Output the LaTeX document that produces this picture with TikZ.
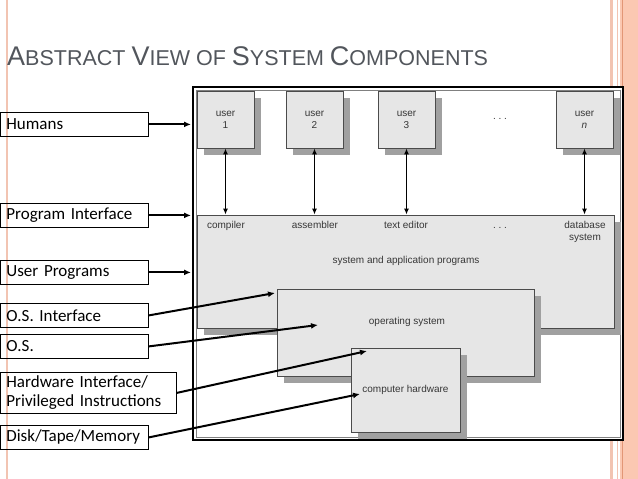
\documentclass[tikz,border=0pt]{standalone}
\usepackage{fontspec}
\setmainfont{Liberation Sans}
\newfontfamily\labelfont{Carlito}
\usetikzlibrary{arrows.meta,shadows}
\definecolor{Salmon}{RGB}{251,200,178}
\definecolor{SalmonLine}{RGB}{242,196,178}
\definecolor{SalmonDark}{RGB}{226,150,118}
\definecolor{Heading}{RGB}{82,86,92}
\definecolor{Part}{RGB}{230,230,230}
\definecolor{Shade}{RGB}{160,160,160}
\definecolor{Ink}{RGB}{55,55,55}
\newcommand{\bigsmall}[2]{{\fontsize{27}{29}\selectfont #1}#2}
\newcommand{\drawarrow}{\draw[line width=2pt,-{Latex[length=7pt,width=6pt]}]}
\tikzset{
  tag/.style={draw,line width=0.8pt,anchor=north west,minimum height=24pt,inner xsep=6pt,inner ysep=2pt,
    text width=136pt,align=left,font=\labelfont\fontsize{17}{19}\selectfont},
  part/.style={draw=Ink!90,line width=0.8pt,fill=Part,align=center,text=Ink,font=\fontsize{10}{12}\selectfont,
    general shadow={fill=Shade,shadow xshift=7pt,shadow yshift=-7pt}},
  user/.style={part,minimum width=57pt,minimum height=57pt},
  word/.style={text=Ink,align=center,font=\fontsize{10}{12}\selectfont,inner sep=1pt,text height=7.5pt,text depth=2pt},
  link/.style={line width=1.2pt,{Latex[length=6pt,width=5pt]}-{Latex[length=6pt,width=5pt]}}
}
\begin{document}
\begin{tikzpicture}[x=1pt,y=-1pt]
\useasboundingbox (0,0) rectangle (638,479);
\fill[SalmonLine] (5.5,0) rectangle (7.5,479);
\fill[SalmonLine] (610,0) rectangle (612.5,479);
\draw[SalmonLine] (617,0) -- (617,479);
\fill[Salmon] (620,0) rectangle (638,479);
\draw[SalmonDark] (622,0) -- (622,479);
\node[anchor=base west,inner sep=0,text=Heading,font=\fontsize{21.5}{23}\selectfont] (title) at (7,65)
  {\bigsmall{A}{BSTRACT} \bigsmall{V}{IEW} OF \bigsmall{S}{YSTEM} \bigsmall{C}{OMPONENTS}};
\node[draw,line width=2pt,fill=white,minimum width=430pt,minimum height=353pt] (frame) at (408,263.5) {};
\draw[Shade!80!black,line width=0.6pt] ([shift={(4,4)}]frame.north west) rectangle ([shift={(-4,-4)}]frame.south east);
\node[user] (u1) at (225.5,119.5) {user\\1};
\node[user] (u2) at (314.5,119.5) {user\\2};
\node[user] (u3) at (406.5,119.5) {user\\3};
\node[user] (un) at (584.5,119.5) {user\\\textit{n}};
\node[word] (udots) at (500,117) {.\ .\ .};
\node[part,minimum width=417pt,minimum height=113pt] (sys) at (405.5,271.5) {};
\node[word] (comp) at (226,226) {compiler};
\node[word] (asm) at (315,226) {assembler};
\node[word] (edit) at (406,226) {text editor};
\node[word] (pdots) at (500,226) {.\ .\ .};
\node[word,text height=,text depth=] (db) at (585,232) {database\\system};
\node[word] (sap) at (406,261) {system and application programs};
\node[part,minimum width=257pt,minimum height=87pt] (os) at (405.5,332.5) {};
\node[word] (ostext) at (407,322) {operating system};
\node[part,minimum width=109pt,minimum height=84pt] (hw) at (405.5,390) {computer hardware};
\foreach \u in {u1,u2,u3,un}{
  \draw[link] (\u.south) -- (\u.south |- sys.north);
}
\node[tag] (hum) at (0,112) {Humans};
\node[tag] (pif) at (0,203) {Program Interface};
\node[tag] (upr) at (0,260) {User Programs};
\node[tag] (osif) at (0,303) {O.S. Interface};
\node[tag] (ost) at (0,334) {O.S.};
\node[tag,text width=164pt,minimum height=41pt] (hwif) at (0,372) {Hardware Interface/\\Privileged Instructions};
\node[tag] (disk) at (0,425) {Disk/Tape/Memory};
\coordinate (osiend) at (275,293);
\coordinate (ostend) at (318,325);
\coordinate (hwiend) at (367,351);
\coordinate (diskend) at (360,394);
\foreach \t in {hum,pif,upr}{
  \drawarrow (\t.east) -- ([xshift=-1pt]\t.east -| frame.west);
}
\drawarrow (osif.east) -- (osiend);
\drawarrow (ost.east) -- (ostend);
\drawarrow (hwif.east) -- (hwiend);
\drawarrow (disk.east) -- (diskend);
\end{tikzpicture}
\end{document}
